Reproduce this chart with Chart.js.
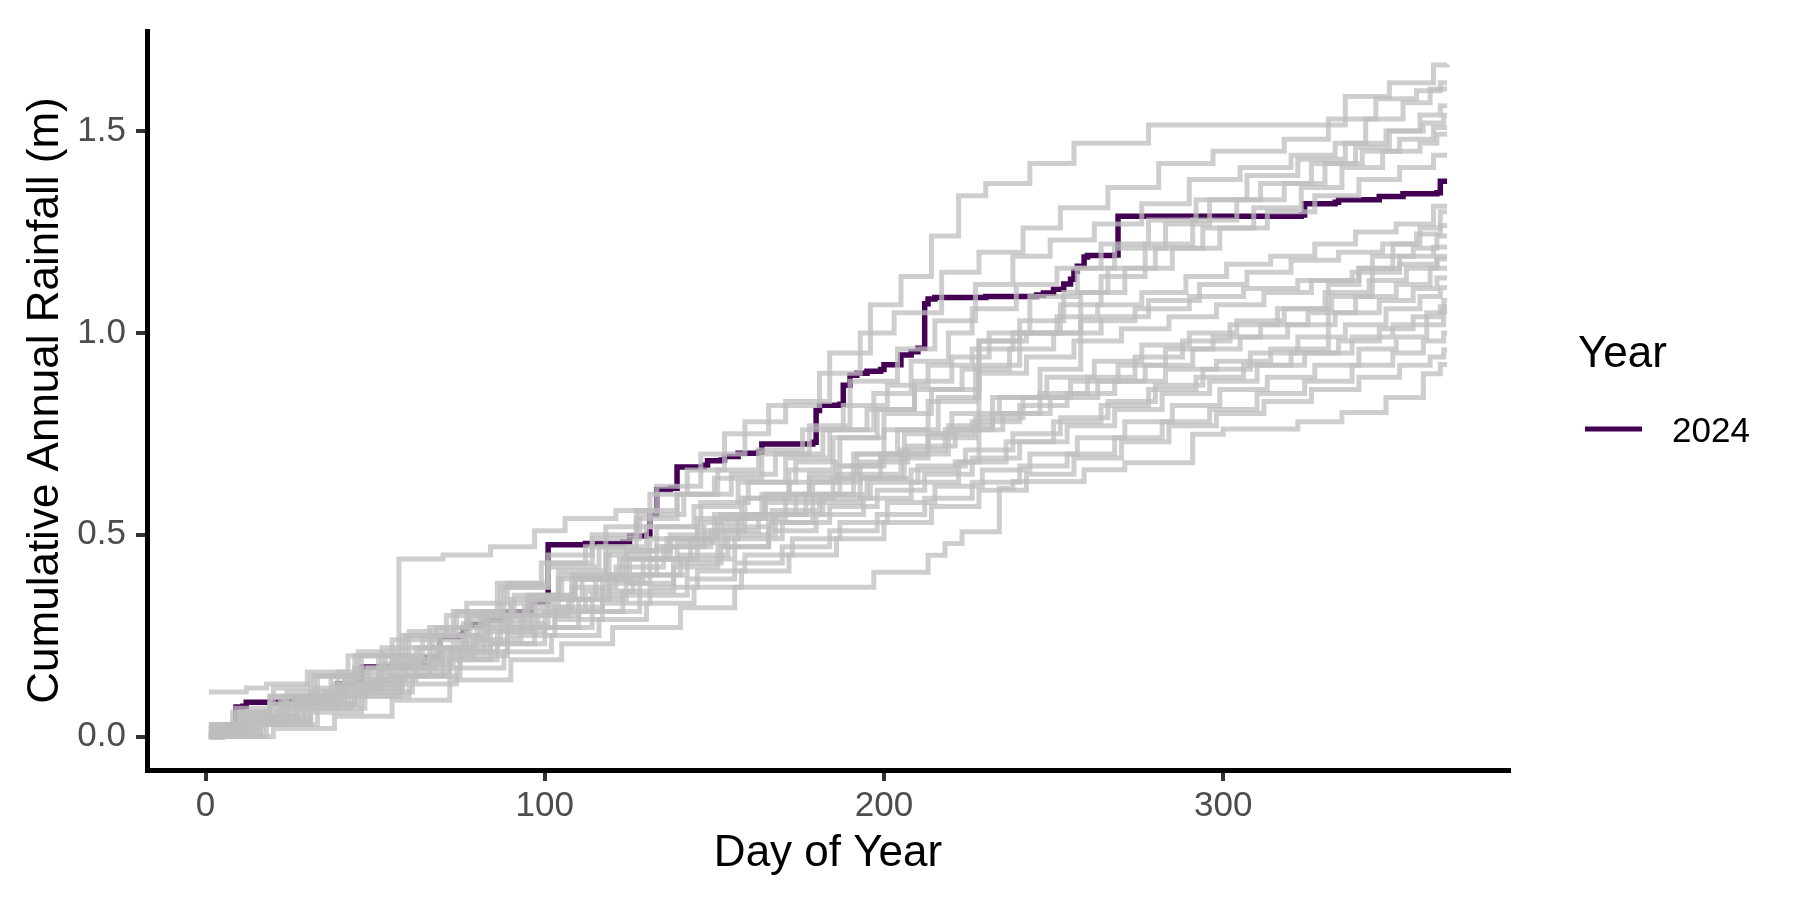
<!DOCTYPE html>
<html>
<head>
<meta charset="utf-8">
<title>Cumulative Annual Rainfall</title>
<script src="https://cdn.jsdelivr.net/npm/chart.js@4.4.1/dist/chart.umd.min.js"></script>
<style>
  html, body { margin: 0; padding: 0; background: #ffffff; }
  #wrap { width: 1800px; height: 900px; position: relative; }
</style>
</head>
<body>
<div id="wrap"><canvas id="rainChart"></canvas></div>
<script>
// ---- data: [day of year, cumulative rainfall (m)] ----
const xTickValues = [0, 100, 200, 300];
const yTickValues = [0, 0.5, 1.0, 1.5];
const highlightYear = '2024';

const rain2024 = [[1,0],[5,0.012],[6,0.028],[8,0.03],[9,0.073],[11,0.075],[12,0.085],[24,0.087],[26,0.097],[38,0.098],[39,0.131],[45,0.133],[46,0.172],[60,0.174],[62,0.183],[65,0.195],[68,0.197],[69,0.248],[75,0.25],[76,0.268],[77,0.277],[82,0.281],[83,0.289],[87,0.309],[95,0.31],[96,0.334],[100,0.336],[101,0.475],[112,0.478],[123,0.482],[125,0.497],[130,0.499],[131,0.55],[133,0.612],[137,0.615],[139,0.668],[147,0.672],[148,0.683],[152,0.685],[153,0.694],[157,0.702],[163,0.705],[164,0.725],[179,0.729],[180,0.808],[181,0.821],[187,0.823],[188,0.87],[190,0.895],[192,0.9],[195,0.905],[199,0.909],[200,0.921],[205,0.945],[208,0.953],[210,0.962],[212,1.072],[213,1.084],[215,1.088],[230,1.09],[245,1.094],[247,1.099],[250,1.108],[253,1.121],[255,1.133],[256,1.153],[257,1.165],[259,1.188],[260,1.192],[268,1.193],[269,1.289],[323,1.292],[324,1.32],[333,1.324],[334,1.33],[346,1.338],[353,1.345],[363,1.347],[364,1.376],[366,1.376]];

const past01 = [[1,0.02],[9,0.05],[21,0.08],[34,0.1],[47,0.12],[56,0.13],[57,0.44],[70,0.45],[84,0.47],[97,0.51],[106,0.54],[121,0.56],[133,0.62],[146,0.7],[159,0.78],[171,0.83],[184,0.95],[196,1.07],[205,1.14],[214,1.24],[222,1.34],[230,1.37],[243,1.42],[256,1.47],[278,1.515],[336,1.586],[349,1.62],[362,1.664],[366,1.665]];
const past02 = [[1,0.01],[12,0.04],[22,0.09],[38,0.13],[52,0.18],[63,0.22],[77,0.29],[90,0.34],[104,0.41],[118,0.52],[131,0.6],[142,0.66],[153,0.75],[166,0.82],[181,0.9],[193,1.0],[203,1.05],[217,1.15],[228,1.2],[241,1.26],[252,1.31],[266,1.36],[281,1.42],[297,1.45],[318,1.48],[331,1.53],[345,1.58],[357,1.6],[364,1.62],[366,1.62]];
const past03 = [[1,0.02],[10,0.06],[19,0.1],[33,0.15],[45,0.21],[58,0.25],[71,0.3],[86,0.38],[99,0.43],[112,0.47],[127,0.54],[139,0.6],[150,0.64],[164,0.7],[178,0.77],[190,0.88],[204,0.96],[215,1.03],[227,1.12],[238,1.19],[249,1.23],[262,1.27],[276,1.32],[290,1.38],[305,1.41],[320,1.44],[333,1.47],[342,1.53],[353,1.57],[361,1.604],[366,1.604]];
const past04 = [[1,0],[14,0.03],[27,0.07],[39,0.12],[51,0.15],[66,0.2],[79,0.24],[93,0.3],[107,0.34],[119,0.4],[133,0.47],[147,0.53],[158,0.59],[172,0.66],[185,0.74],[198,0.81],[209,0.88],[220,0.94],[231,1.0],[243,1.09],[257,1.16],[268,1.21],[283,1.27],[296,1.33],[311,1.37],[326,1.42],[339,1.46],[349,1.5],[358,1.54],[364,1.563],[366,1.563]];
const past05 = [[1,0.11],[12,0.12],[18,0.13],[31,0.15],[44,0.2],[59,0.25],[73,0.31],[88,0.37],[101,0.42],[116,0.47],[130,0.52],[144,0.57],[157,0.63],[171,0.69],[184,0.76],[197,0.85],[208,0.93],[219,1.0],[226,1.06],[239,1.12],[251,1.16],[264,1.22],[278,1.28],[292,1.33],[307,1.39],[322,1.43],[336,1.47],[348,1.5],[359,1.52],[365,1.539],[366,1.539]];
const past06 = [[1,0.01],[11,0.05],[24,0.08],[36,0.11],[49,0.14],[62,0.17],[75,0.21],[89,0.27],[103,0.32],[117,0.38],[131,0.44],[145,0.51],[159,0.55],[174,0.6],[187,0.67],[200,0.76],[213,0.83],[227,0.92],[240,1.0],[252,1.07],[264,1.14],[277,1.22],[291,1.28],[304,1.33],[318,1.37],[330,1.42],[341,1.45],[352,1.48],[362,1.509],[366,1.509]];
const past07 = [[1,0.03],[9,0.07],[20,0.12],[30,0.16],[42,0.2],[55,0.24],[68,0.27],[82,0.31],[95,0.35],[108,0.4],[124,0.46],[137,0.5],[152,0.55],[165,0.6],[178,0.64],[191,0.7],[204,0.76],[216,0.84],[228,0.98],[240,1.03],[253,1.1],[266,1.16],[280,1.21],[294,1.26],[309,1.31],[323,1.36],[335,1.41],[347,1.45],[358,1.47],[363,1.492],[366,1.492]];
const past08 = [[1,0],[16,0.04],[29,0.07],[43,0.1],[57,0.15],[70,0.19],[84,0.23],[97,0.27],[110,0.31],[123,0.36],[138,0.42],[151,0.47],[166,0.53],[179,0.58],[193,0.64],[206,0.7],[219,0.77],[232,0.84],[246,0.91],[258,1.1],[271,1.16],[285,1.21],[299,1.26],[313,1.3],[327,1.34],[340,1.38],[352,1.41],[362,1.44],[366,1.44]];
const past09 = [[1,0.02],[11,0.04],[19,0.08],[31,0.12],[44,0.17],[52,0.22],[66,0.27],[77,0.33],[89,0.38],[101,0.45],[114,0.5],[127,0.56],[139,0.6],[151,0.66],[163,0.71],[176,0.76],[188,0.82],[201,0.87],[213,0.92],[226,0.96],[238,1.0],[251,1.04],[263,1.07],[276,1.1],[289,1.14],[301,1.17],[314,1.19],[327,1.22],[339,1.25],[351,1.27],[362,1.314],[366,1.314]];
const past10 = [[1,0.01],[10,0.03],[22,0.07],[35,0.11],[48,0.17],[62,0.22],[76,0.28],[90,0.33],[104,0.39],[118,0.45],[131,0.49],[145,0.54],[159,0.59],[172,0.63],[186,0.67],[199,0.7],[213,0.75],[226,0.78],[240,0.82],[254,0.85],[268,0.88],[283,0.91],[298,0.93],[314,0.96],[331,1.12],[340,1.16],[350,1.22],[358,1.26],[364,1.3],[366,1.3]];
const past11 = [[1,0.03],[8,0.06],[19,0.1],[32,0.15],[46,0.2],[60,0.26],[74,0.31],[87,0.37],[101,0.43],[114,0.49],[128,0.55],[141,0.6],[155,0.65],[168,0.7],[182,0.76],[195,0.81],[209,0.86],[223,0.91],[237,0.96],[250,1.0],[264,1.04],[278,1.08],[293,1.12],[307,1.15],[320,1.18],[334,1.2],[347,1.22],[357,1.245],[364,1.266],[366,1.266]];
const past12 = [[1,0],[15,0.05],[28,0.1],[41,0.14],[55,0.19],[69,0.25],[83,0.3],[96,0.35],[109,0.39],[122,0.44],[136,0.49],[150,0.55],[164,0.6],[178,0.65],[192,0.7],[206,0.75],[220,0.8],[234,0.84],[248,0.89],[262,0.93],[276,0.97],[290,1.0],[304,1.03],[318,1.06],[332,1.09],[344,1.19],[356,1.21],[363,1.24],[366,1.24]];
const past13 = [[1,0.02],[11,0.05],[23,0.1],[37,0.15],[51,0.2],[64,0.25],[78,0.3],[91,0.35],[105,0.4],[119,0.46],[133,0.52],[146,0.58],[160,0.63],[174,0.68],[187,0.74],[200,0.8],[214,0.86],[228,0.9],[242,0.94],[256,0.98],[270,1.01],[284,1.04],[298,1.07],[312,1.1],[326,1.13],[340,1.16],[352,1.19],[362,1.213],[366,1.213]];
const past14 = [[1,0.01],[12,0.04],[25,0.08],[38,0.12],[52,0.17],[66,0.22],[80,0.27],[94,0.32],[108,0.37],[121,0.42],[135,0.47],[149,0.51],[163,0.55],[177,0.6],[191,0.65],[205,0.71],[218,0.76],[232,0.8],[246,0.85],[260,0.89],[274,0.94],[288,0.98],[302,1.02],[316,1.06],[330,1.1],[343,1.13],[354,1.16],[363,1.19],[366,1.19]];
const past15 = [[1,0.02],[14,0.05],[27,0.09],[41,0.14],[55,0.19],[69,0.24],[83,0.29],[97,0.34],[111,0.39],[125,0.44],[139,0.48],[153,0.52],[167,0.56],[181,0.6],[195,0.64],[208,0.66],[221,0.68],[228,0.98],[242,1.0],[258,1.03],[274,1.06],[290,1.09],[306,1.11],[322,1.13],[338,1.15],[352,1.17],[363,1.183],[366,1.183]];
const past16 = [[1,0],[17,0.04],[31,0.08],[45,0.13],[59,0.18],[73,0.23],[87,0.28],[101,0.34],[115,0.39],[129,0.44],[143,0.49],[157,0.54],[171,0.59],[185,0.64],[199,0.69],[213,0.74],[227,0.79],[241,0.84],[255,0.88],[269,0.92],[283,0.96],[297,0.99],[311,1.02],[325,1.05],[339,1.09],[351,1.12],[361,1.16],[366,1.16]];
const past17 = [[1,0.03],[10,0.06],[24,0.11],[39,0.16],[53,0.2],[67,0.25],[81,0.3],[95,0.34],[109,0.39],[123,0.44],[137,0.49],[151,0.54],[165,0.58],[179,0.63],[193,0.68],[207,0.72],[221,0.76],[235,0.8],[249,0.84],[263,0.88],[277,0.92],[291,0.96],[305,0.99],[319,1.02],[333,1.05],[346,1.08],[356,1.11],[363,1.136],[366,1.136]];
const past18 = [[1,0.01],[13,0.05],[27,0.09],[42,0.13],[56,0.18],[70,0.22],[84,0.27],[98,0.31],[112,0.36],[126,0.4],[140,0.45],[154,0.5],[168,0.55],[182,0.59],[196,0.63],[210,0.67],[224,0.71],[238,0.75],[252,0.79],[266,0.83],[280,0.87],[294,0.91],[308,0.95],[322,0.99],[336,1.02],[348,1.06],[358,1.09],[364,1.112],[366,1.112]];
const past19 = [[1,0],[15,0.04],[30,0.08],[44,0.12],[58,0.16],[72,0.21],[86,0.26],[100,0.31],[114,0.35],[128,0.4],[142,0.44],[156,0.49],[170,0.53],[184,0.57],[198,0.61],[212,0.65],[226,0.69],[240,0.73],[254,0.77],[268,0.81],[282,0.85],[296,0.88],[310,0.92],[324,0.95],[338,0.99],[350,1.02],[360,1.05],[365,1.08],[366,1.08]];
const past20 = [[1,0.02],[12,0.05],[26,0.09],[40,0.13],[54,0.17],[68,0.21],[82,0.26],[96,0.3],[110,0.34],[124,0.38],[138,0.43],[152,0.47],[166,0.51],[180,0.55],[194,0.59],[208,0.63],[222,0.68],[236,0.73],[250,0.78],[264,0.82],[278,0.86],[292,0.89],[306,0.92],[320,0.95],[334,0.98],[346,1.01],[356,1.04],[364,1.065],[366,1.065]];
const past21 = [[1,0],[18,0.03],[33,0.07],[47,0.11],[61,0.15],[75,0.2],[89,0.25],[103,0.29],[117,0.33],[131,0.37],[145,0.41],[159,0.45],[173,0.49],[187,0.53],[201,0.58],[215,0.62],[229,0.66],[243,0.7],[257,0.74],[271,0.78],[285,0.82],[299,0.86],[313,0.89],[327,0.92],[340,0.96],[351,0.99],[360,1.02],[365,1.053],[366,1.053]];
const past22 = [[1,0.01],[14,0.04],[29,0.08],[44,0.11],[58,0.15],[72,0.19],[86,0.23],[100,0.27],[114,0.31],[128,0.35],[142,0.39],[156,0.43],[170,0.47],[184,0.51],[198,0.55],[212,0.59],[226,0.63],[240,0.67],[254,0.7],[268,0.74],[282,0.78],[296,0.81],[310,0.85],[324,0.88],[338,0.92],[350,0.95],[359,0.98],[365,1.0],[366,1.0]];
const past23 = [[1,0],[16,0.03],[31,0.06],[46,0.1],[60,0.13],[74,0.17],[88,0.21],[102,0.25],[116,0.29],[130,0.33],[144,0.37],[158,0.41],[172,0.45],[186,0.49],[200,0.53],[214,0.57],[228,0.61],[242,0.65],[256,0.69],[270,0.73],[284,0.77],[298,0.8],[312,0.83],[326,0.86],[340,0.89],[352,0.92],[361,0.94],[365,0.958],[366,0.958]];
const past24 = [[1,0],[20,0.02],[38,0.05],[55,0.09],[72,0.14],[90,0.19],[105,0.23],[120,0.27],[140,0.319],[156,0.37],[197,0.407],[213,0.449],[218,0.478],[223,0.507],[234,0.615],[238,0.632],[259,0.661],[271,0.678],[291,0.749],[300,0.762],[322,0.78],[335,0.803],[348,0.84],[359,0.899],[364,0.922],[366,0.922]];

const pastYears = [past01, past02, past03, past04, past05, past06, past07, past08,
  past09, past10, past11, past12, past13, past14, past15, past16,
  past17, past18, past19, past20, past21, past22, past23, past24];

const purple = '#440154';
const greyLine = 'rgba(190, 190, 190, 0.75)';
const fontFamily = '"Liberation Sans", Arial, Helvetica, sans-serif';

function toPoints(pairs) {
  return pairs.map(p => ({ x: p[0], y: p[1] }));
}

const datasets = pastYears.map((arr, i) => ({
  label: 'past' + i,
  data: toPoints(arr),
  borderColor: greyLine,
  borderWidth: 5,
  pointRadius: 0,
  stepped: true,
  fill: false
}));
datasets.push({
  label: highlightYear,
  data: toPoints(rain2024),
  borderColor: purple,
  borderWidth: 5.5,
  pointRadius: 0,
  stepped: true,
  fill: false
});

// legend drawn on the right, ggplot style
const legendPlugin = {
  id: 'yearLegend',
  afterDraw(chart) {
    const ctx = chart.ctx;
    ctx.save();
    ctx.fillStyle = '#000000';
    ctx.textBaseline = 'alphabetic';
    ctx.textAlign = 'left';
    ctx.font = '44px ' + fontFamily;
    ctx.fillText('Year', 1578, 367);
    ctx.strokeStyle = purple;
    ctx.lineWidth = 5;
    ctx.beginPath();
    ctx.moveTo(1585, 429);
    ctx.lineTo(1642, 429);
    ctx.stroke();
    ctx.font = '35px ' + fontFamily;
    ctx.fillText(highlightYear, 1672, 442);
    ctx.restore();
  }
};

new Chart(document.getElementById('rainChart'), {
  type: 'line',
  data: { datasets: datasets },
  plugins: [legendPlugin],
  options: {
    responsive: true,
    maintainAspectRatio: false,
    animation: false,
    events: [],
    layout: { padding: { top: 22, right: 291, left: 0, bottom: 0 } },
    plugins: {
      legend: { display: false },
      tooltip: { enabled: false }
    },
    scales: {
      x: {
        type: 'linear',
        min: -17.25,
        max: 384.25,
        afterFit(scale) { scale.height = 130; },
        afterBuildTicks(scale) { scale.ticks = xTickValues.map(v => ({ value: v })); },
        grid: { display: true, drawOnChartArea: false, drawTicks: true, tickLength: 11, color: '#333333', lineWidth: 4 },
        border: { display: true, color: '#000000', width: 5 },
        ticks: {
          color: '#4D4D4D',
          font: { family: fontFamily, size: 35 },
          padding: 4,
          maxRotation: 0,
          callback: v => String(v)
        },
        title: {
          display: true,
          text: 'Day of Year',
          color: '#000000',
          font: { family: fontFamily, size: 44 },
          padding: { top: 0, bottom: 20 }
        }
      },
      y: {
        type: 'linear',
        min: -0.083,
        max: 1.748,
        afterFit(scale) { scale.width = 147; },
        afterBuildTicks(scale) { scale.ticks = yTickValues.map(v => ({ value: v })); },
        grid: { display: true, drawOnChartArea: false, drawTicks: true, tickLength: 11, color: '#333333', lineWidth: 4 },
        border: { display: true, color: '#000000', width: 5 },
        ticks: {
          color: '#4D4D4D',
          font: { family: fontFamily, size: 35 },
          padding: 10,
          callback: v => Number(v).toFixed(1)
        },
        title: {
          display: true,
          text: 'Cumulative Annual Rainfall (m)',
          color: '#000000',
          font: { family: fontFamily, size: 44 },
          padding: { top: 19, bottom: 0 }
        }
      }
    }
  }
});
</script>
</body>
</html>
